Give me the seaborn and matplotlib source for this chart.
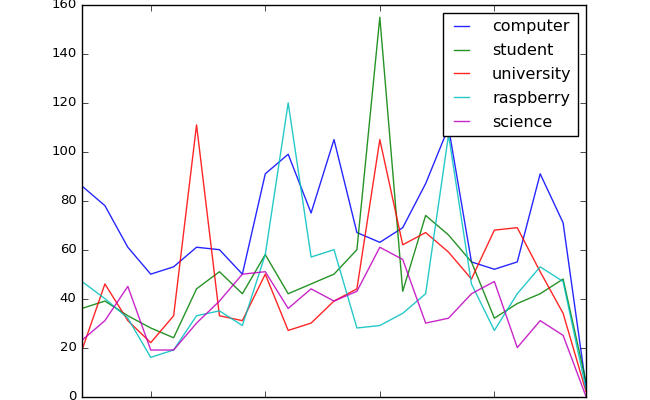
import matplotlib
matplotlib.use("Agg")
import matplotlib.pyplot as plt
import pandas as pd
import seaborn as sns

# ---------------------------------------------------------------
# data
# ---------------------------------------------------------------
x_vals = [2, 3, 4, 5, 6, 7, 8, 9, 10, 11, 12, 13, 14, 15, 16, 17, 18, 19, 20, 21, 22, 23, 24]

computer = [86, 78, 61, 50, 53, 61, 60, 50, 91, 99, 75, 105, 67, 63, 69, 87, 110, 55, 52, 55, 91, 71, 4]
student = [36, 39, 33, 28, 24, 44, 51, 42, 58, 42, 46, 50, 60, 155, 43, 74, 66, 55, 32, 38, 42, 48, 6]
university = [19, 46, 31, 22, 33, 111, 33, 31, 50, 27, 30, 39, 44, 105, 62, 67, 59, 48, 68, 69, 51, 34, 2]
raspberry = [47, 40, 32, 16, 19, 33, 35, 29, 58, 120, 57, 60, 28, 29, 34, 42, 107, 46, 27, 42, 53, 47, 3]
science = [23, 31, 45, 19, 19, 30, 39, 50, 51, 36, 44, 39, 43, 61, 56, 30, 32, 42, 47, 20, 31, 25, 0]

words = ["computer", "student", "university", "raspberry", "science"]
colors = [(0, 0, 1), (0, 0.5, 0), (1, 0, 0), (0, 0.75, 0.75), (0.75, 0, 0.75)]

# long form table for seaborn
series = [computer, student, university, raspberry, science]
frames = []
for w, vals in zip(words, series):
    frames.append(pd.DataFrame({"x": x_vals, "count": vals, "word": w}))
df = pd.concat(frames, ignore_index=True)

# ---------------------------------------------------------------
# plot (old matplotlib "classic" look)
# ---------------------------------------------------------------
plt.style.use("classic")
plt.rcParams["font.family"] = ["DejaVu Sans"]

fig = plt.figure(figsize=(6.5, 4), dpi=100, facecolor="white")
ax = fig.add_axes([82 / 650, 3.5 / 400, 504 / 650, 391.5 / 400])

sns.lineplot(data=df, x="x", y="count", hue="word", hue_order=words,
             palette=colors, linewidth=1.0, alpha=0.85, ax=ax, legend=True)

ax.set_xlim(2, 24)
ax.set_ylim(0, 160)
ax.set_xticks([5, 10, 15, 20])
ax.set_yticks([0, 20, 40, 60, 80, 100, 120, 140, 160])
ax.set_xlabel("")
ax.set_ylabel("")
# x tick labels fall below the visible area in the reference
ax.tick_params(labelsize=9.5, direction="in", top=True, right=True, labelbottom=False)

handles, labels = ax.get_legend_handles_labels()
ax.legend(handles, labels, loc="upper right", fontsize=11.5, frameon=True,
          fancybox=False, handlelength=1.5, handletextpad=1.15,
          labelspacing=0.55, borderpad=0.4)

fig.savefig("out.png", dpi=100, facecolor="white")
